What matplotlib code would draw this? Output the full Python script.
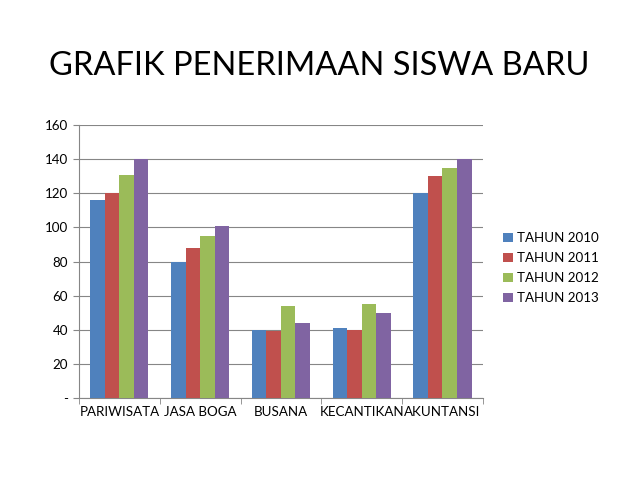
import matplotlib.pyplot as plt
import numpy as np

plt.rcParams['font.family'] = ['Lato', 'DejaVu Sans']

categories = ['PARIWISATA', 'JASA BOGA', 'BUSANA', 'KECANTIKAN', 'AKUNTANSI']
series = ['TAHUN 2010', 'TAHUN 2011', 'TAHUN 2012', 'TAHUN 2013']
t2010 = [116, 80, 40, 41, 120]
t2011 = [120, 88, 39, 40, 130]
t2012 = [131, 95, 54, 55, 135]
t2013 = [140, 101, 44, 50, 140]
colors = ['#4F81BD', '#C0504D', '#9BBB59', '#8064A2']

fig = plt.figure(figsize=(6.38, 4.78), dpi=100)
ax = fig.add_axes([0.1238, 0.1674, 0.633, 0.571])

x = np.arange(len(categories))
w = 0.18
for i, (vals, lab) in enumerate(zip([t2010, t2011, t2012, t2013], series)):
    ax.bar(x + (i - 1.5) * w, vals, w, color=colors[i], label=lab, zorder=3)

ax.set_xlim(-0.5, len(categories) - 0.5)
ax.set_ylim(0, 160)
ax.set_yticks(range(0, 161, 20))
ax.set_yticklabels(['-'] + [str(v) for v in range(20, 161, 20)], fontsize=9.6)
ax.set_xticks(x)
ax.set_xticklabels(categories, fontsize=9.6)
ax.set_xticks(np.arange(-0.5, len(categories), 1), minor=True)
ax.tick_params(axis='x', which='major', length=0, pad=6)
ax.tick_params(axis='x', which='minor', length=4, color='#868686')
ax.tick_params(axis='y', length=4, color='#868686', pad=4)
ax.grid(axis='y', color='#868686', linewidth=0.8, zorder=0)
for s in ['top', 'right']:
    ax.spines[s].set_visible(False)
for s in ['left', 'bottom']:
    ax.spines[s].set_color('#868686')

fig.text(0.5, 0.862, 'GRAFIK PENERIMAAN SISWA BARU', ha='center', va='center', fontsize=23.5)
fig.legend(loc='center left', bbox_to_anchor=(0.77, 0.439), frameon=False,
           fontsize=9.6, handlelength=0.7, handleheight=0.7, handletextpad=0.3,
           labelspacing=0.6)

fig.savefig('out.png', dpi=100)
